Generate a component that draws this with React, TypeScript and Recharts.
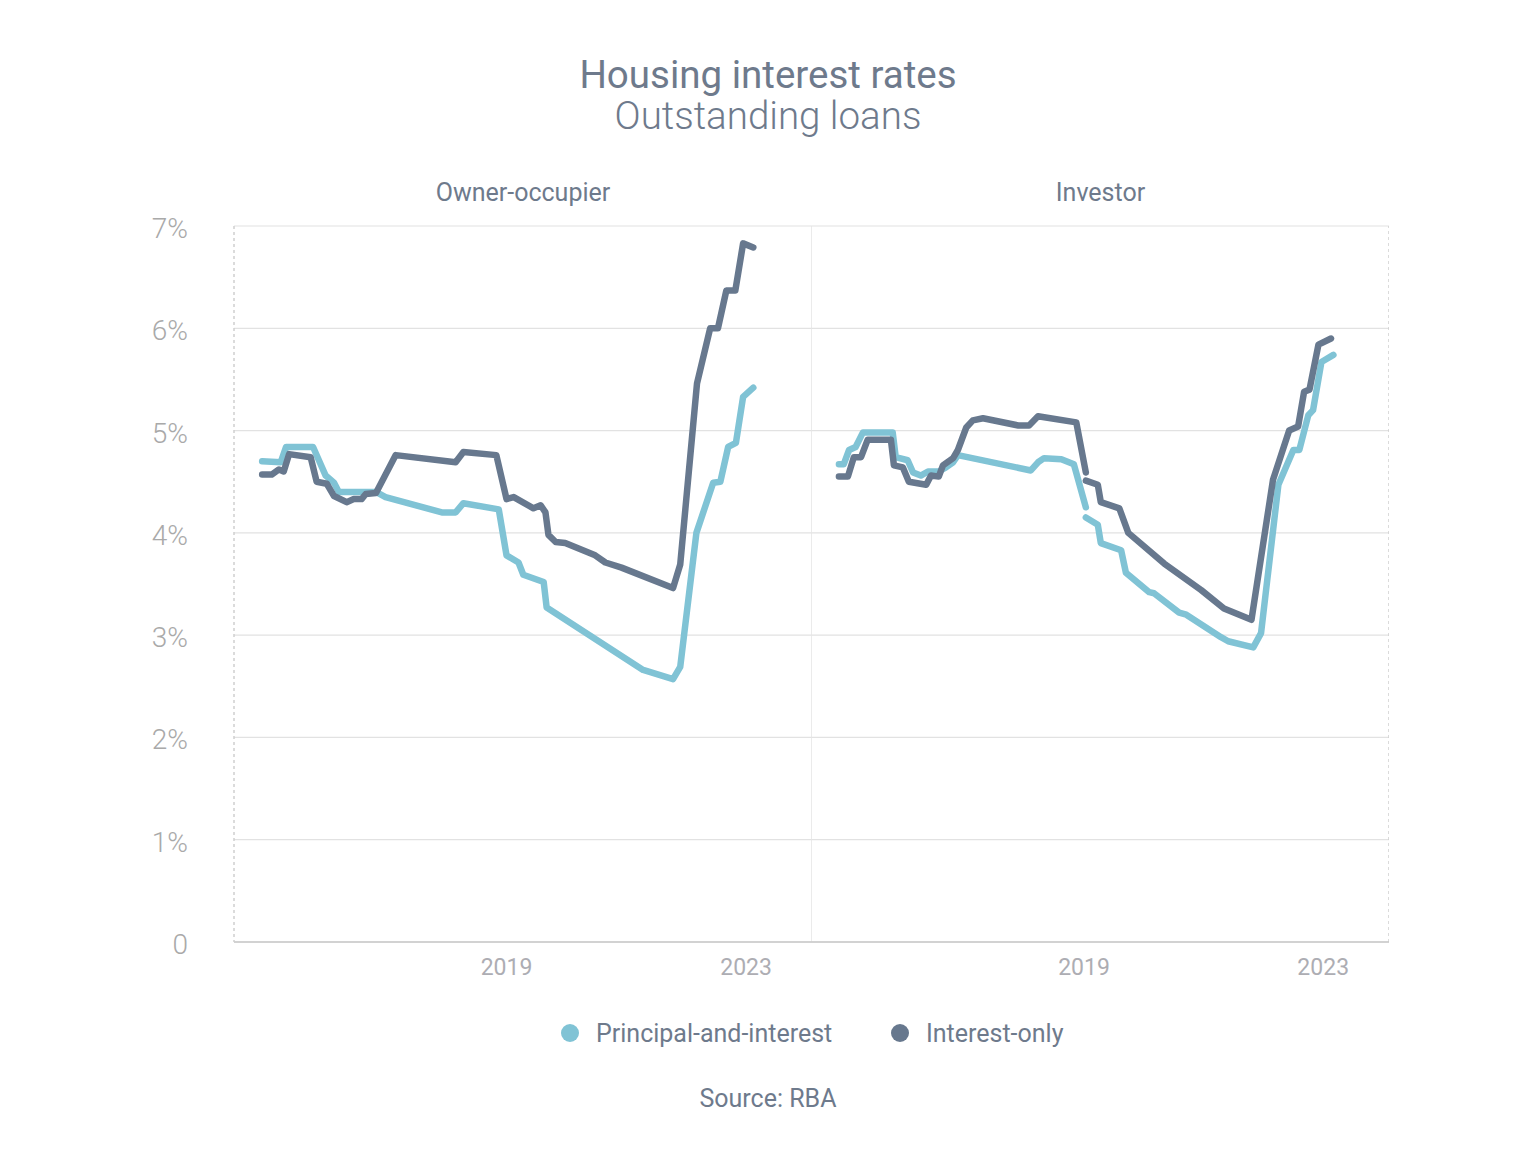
import React from "react";
import {
  LineChart,
  Line,
  XAxis,
  YAxis,
  CartesianGrid,
  ReferenceLine,
} from "recharts";

// [decimal year, rate %]; null marks the series break
const ownerPrincipal: [number, number | null][] = [
  [2014.92, 4.7], [2015.23, 4.69], [2015.32, 4.84], [2015.77, 4.84], [2015.98, 4.56],
  [2016.12, 4.49], [2016.2, 4.4], [2016.82, 4.4], [2016.98, 4.35], [2017.92, 4.2],
  [2018.15, 4.2], [2018.28, 4.29], [2018.87, 4.23], [2019.0, 3.78], [2019.2, 3.71],
  [2019.28, 3.59], [2019.62, 3.52], [2019.67, 3.27], [2021.28, 2.66], [2021.78, 2.57],
  [2021.9, 2.69], [2022.17, 4.0], [2022.45, 4.49], [2022.57, 4.5], [2022.7, 4.84],
  [2022.83, 4.88], [2022.95, 5.33], [2023.12, 5.42],
];

const ownerInterestOnly: [number, number | null][] = [
  [2014.92, 4.57], [2015.08, 4.57], [2015.2, 4.62], [2015.28, 4.6], [2015.37, 4.77],
  [2015.73, 4.74], [2015.83, 4.5], [2016.0, 4.48], [2016.12, 4.36], [2016.33, 4.3],
  [2016.45, 4.33], [2016.58, 4.33], [2016.65, 4.38], [2016.82, 4.39], [2017.15, 4.76],
  [2018.15, 4.69], [2018.28, 4.79], [2018.83, 4.76], [2019.0, 4.33], [2019.12, 4.35],
  [2019.45, 4.24], [2019.57, 4.27], [2019.65, 4.2], [2019.7, 3.98], [2019.82, 3.91],
  [2019.98, 3.9], [2020.48, 3.78], [2020.65, 3.71], [2020.92, 3.66], [2021.78, 3.46],
  [2021.9, 3.69], [2022.18, 5.46], [2022.4, 6.0], [2022.53, 6.0], [2022.67, 6.37],
  [2022.82, 6.37], [2022.95, 6.83], [2023.12, 6.79],
];

const investorPrincipal: [number, number | null][] = [
  [2014.9, 4.67], [2014.98, 4.67], [2015.07, 4.81], [2015.18, 4.84], [2015.3, 4.98],
  [2015.8, 4.98], [2015.85, 4.74], [2016.05, 4.71], [2016.14, 4.59], [2016.27, 4.56],
  [2016.39, 4.6], [2016.57, 4.6], [2016.69, 4.64], [2016.81, 4.69], [2016.89, 4.76],
  [2018.11, 4.61], [2018.23, 4.69], [2018.33, 4.73], [2018.62, 4.72], [2018.83, 4.67],
  [2019.03, 4.25], [2019.03, null], [2019.03, 4.15], [2019.23, 4.08], [2019.28, 3.9],
  [2019.62, 3.83], [2019.7, 3.61], [2020.09, 3.42], [2020.17, 3.41], [2020.59, 3.22],
  [2020.71, 3.2], [2021.29, 2.98], [2021.41, 2.94], [2021.83, 2.88], [2021.96, 3.02],
  [2022.25, 4.47], [2022.5, 4.81], [2022.6, 4.81], [2022.75, 5.15], [2022.83, 5.2],
  [2022.97, 5.67], [2023.17, 5.74],
];

const investorInterestOnly: [number, number | null][] = [
  [2014.9, 4.55], [2015.05, 4.55], [2015.15, 4.74], [2015.27, 4.74], [2015.38, 4.91],
  [2015.77, 4.91], [2015.82, 4.66], [2015.97, 4.64], [2016.07, 4.5], [2016.36, 4.47],
  [2016.44, 4.56], [2016.57, 4.55], [2016.64, 4.66], [2016.81, 4.73], [2016.89, 4.81],
  [2017.03, 5.03], [2017.14, 5.1], [2017.31, 5.12], [2017.9, 5.05], [2018.08, 5.05],
  [2018.23, 5.14], [2018.87, 5.08], [2019.03, 4.59], [2019.03, null], [2019.03, 4.51],
  [2019.23, 4.47], [2019.28, 4.3], [2019.59, 4.24], [2019.74, 4.0], [2020.34, 3.7],
  [2020.96, 3.44], [2021.34, 3.26], [2021.8, 3.15], [2022.16, 4.52], [2022.43, 5.0],
  [2022.58, 5.04], [2022.68, 5.38], [2022.77, 5.4], [2022.92, 5.84], [2023.13, 5.9],
];

const yTicks = [0, 1, 2, 3, 4, 5, 6, 7];
const xTicks = [2019, 2023];
const xDomain: [number, number] = [2014.45, 2024.1];

const PI_COLOR = "#80c3d5";
const IO_COLOR = "#67788e";
const TEXT = "#6e7a8c";
const GRID = "#e2e2e2";
const FONT = "Roboto, sans-serif";

const toRows = (pts: [number, number | null][]) =>
  pts.map(([date, rate]) => ({ date, rate }));

const xAxisProps = {
  dataKey: "date",
  type: "number" as const,
  domain: xDomain,
  ticks: xTicks,
  interval: 0 as const,
  height: 58,
  tickLine: false,
  tickMargin: 11,
  axisLine: { stroke: "#c9c9c9", strokeWidth: 1.5 },
  tick: { fill: "#adadb3", fontSize: 23, fontFamily: FONT },
};

function Panel({
  principal,
  interestOnly,
  showY,
  width,
}: {
  principal: [number, number | null][];
  interestOnly: [number, number | null][];
  showY: boolean;
  width: number;
}) {
  return (
    <LineChart
      width={width}
      height={1000}
      margin={{ top: 226, right: 0, bottom: 0, left: 0 }}
    >
      <CartesianGrid vertical={false} stroke={GRID} strokeWidth={1.2} />
      <XAxis {...xAxisProps} />
      {showY ? (
        <YAxis
          domain={[0, 7]}
          ticks={yTicks}
          width={234}
          tickLine={false}
          tickMargin={40}
          axisLine={{ stroke: "#cfcfcf", strokeDasharray: "3 3", strokeWidth: 1.5 }}
          tick={{ fill: "#a9a9a9", fontSize: 28, fontFamily: FONT, fontWeight: 300, dy: 2 }}
          tickFormatter={(v) => (v === 0 ? "0" : `${v}%`)}
        />
      ) : (
        <YAxis domain={[0, 7]} ticks={yTicks} hide />
      )}
      {showY ? (
        <ReferenceLine x={xDomain[1]} stroke="#e4e4e4" strokeWidth={1.5} />
      ) : (
        <ReferenceLine
          x={xDomain[1]}
          stroke="#cfcfcf"
          strokeDasharray="3 3"
          strokeWidth={1.5}
        />
      )}
      <Line
        data={toRows(principal)}
        dataKey="rate"
        type="linear"
        stroke={PI_COLOR}
        strokeWidth={6.5}
        strokeLinecap="round"
        strokeLinejoin="round"
        dot={false}
        connectNulls={false}
        isAnimationActive={false}
      />
      <Line
        data={toRows(interestOnly)}
        dataKey="rate"
        type="linear"
        stroke={IO_COLOR}
        strokeWidth={6.5}
        strokeLinecap="round"
        strokeLinejoin="round"
        dot={false}
        connectNulls={false}
        isAnimationActive={false}
      />
    </LineChart>
  );
}

const abs = (style: React.CSSProperties): React.CSSProperties => ({
  position: "absolute",
  whiteSpace: "nowrap",
  ...style,
});

export default function App() {
  return (
    <div
      style={{
        position: "absolute",
        left: 0,
        top: 0,
        width: 1536,
        height: 1152,
        background: "#fff",
        fontFamily: FONT,
        color: TEXT,
      }}
    >
      <div style={abs({ left: 0, top: 0 })}>
        <Panel principal={ownerPrincipal} interestOnly={ownerInterestOnly} showY width={812} />
      </div>
      <div style={abs({ left: 812, top: 0 })}>
        <Panel
          principal={investorPrincipal}
          interestOnly={investorInterestOnly}
          showY={false}
          width={577}
        />
      </div>

      <div style={abs({ left: 0, width: 1536, top: 56, textAlign: "center", fontSize: 38.5, lineHeight: "38.5px" })}>
        Housing interest rates
      </div>
      <div
        style={abs({
          left: 0,
          width: 1536,
          top: 97,
          textAlign: "center",
          fontSize: 38.5,
          lineHeight: "38.5px",
          fontWeight: 300,
        })}
      >
        Outstanding loans
      </div>

      <div style={abs({ left: 234, width: 578, top: 180, textAlign: "center", fontSize: 25, lineHeight: "25px" })}>
        Owner-occupier
      </div>
      <div style={abs({ left: 812, width: 577, top: 180, textAlign: "center", fontSize: 25, lineHeight: "25px" })}>
        Investor
      </div>

      <div style={abs({ left: 561, top: 1024, width: 18, height: 18, borderRadius: 9, background: PI_COLOR })} />
      <div style={abs({ left: 596, top: 1021, fontSize: 25, lineHeight: "25px" })}>
        Principal-and-interest
      </div>
      <div style={abs({ left: 891, top: 1024, width: 18, height: 18, borderRadius: 9, background: IO_COLOR })} />
      <div style={abs({ left: 926, top: 1021, fontSize: 25, lineHeight: "25px" })}>
        Interest-only
      </div>

      <div style={abs({ left: 0, width: 1536, top: 1086, textAlign: "center", fontSize: 25, lineHeight: "25px" })}>
        Source: RBA
      </div>
    </div>
  );
}
